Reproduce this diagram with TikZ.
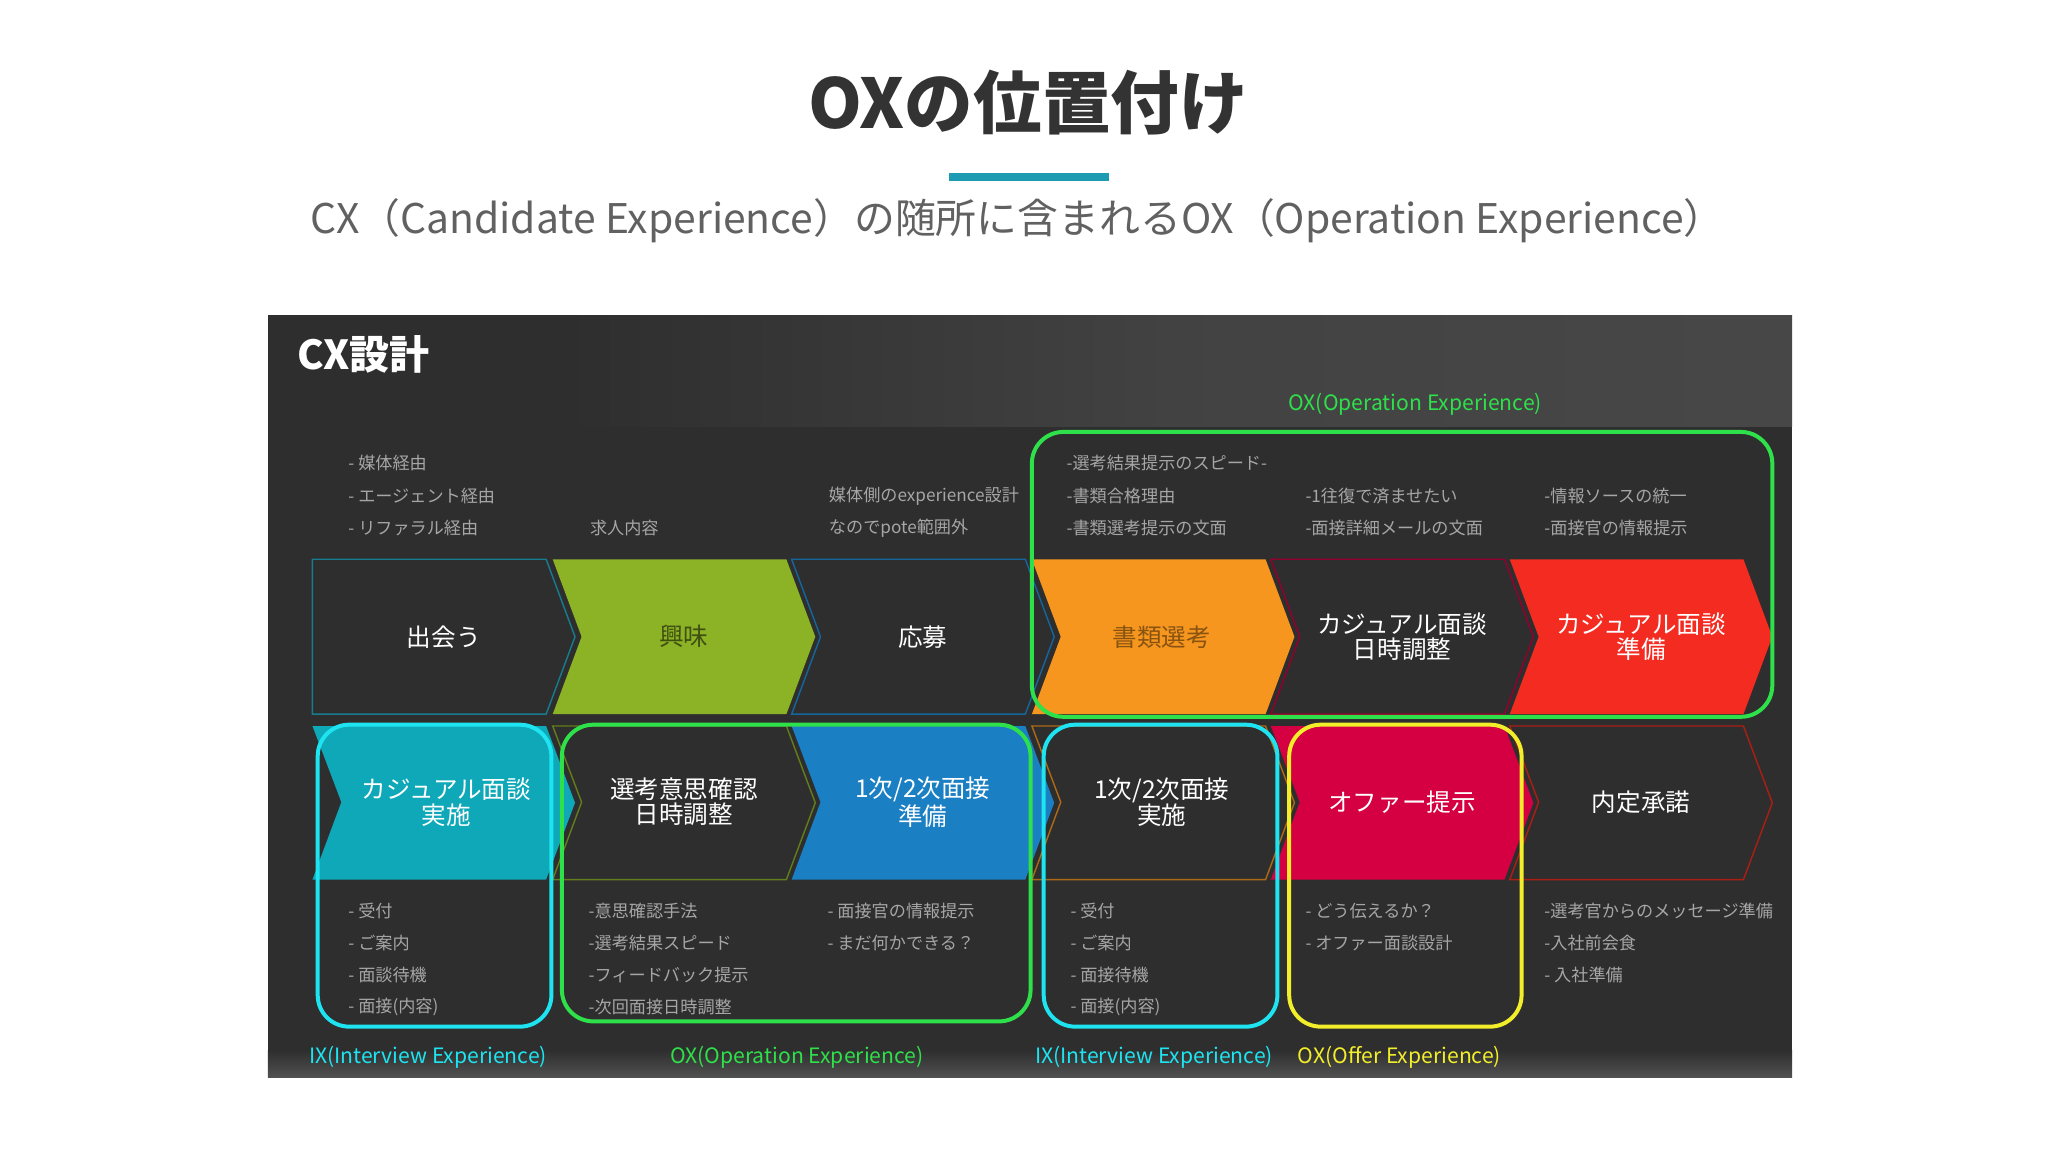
\documentclass[tikz,border=0pt]{standalone}
\usepackage{fontspec}
\setmainfont{Noto Sans CJK JP}
\definecolor{cgreen}{HTML}{2EE04A}
\definecolor{ccyan}{HTML}{1DE4F0}
\definecolor{cyell}{HTML}{F2EE2A}
\definecolor{cteal}{HTML}{0FA8B8}
\definecolor{colive}{HTML}{8CB226}
\definecolor{corange}{HTML}{F7961E}
\definecolor{cred}{HTML}{F42B20}
\definecolor{cblue}{HTML}{1A7FC3}
\definecolor{ccrim}{HTML}{D40042}
\definecolor{cbar}{HTML}{1C9BB2}
\definecolor{cbg}{HTML}{2E2E2E}
\begin{document}
\begin{tikzpicture}[x=0.4595pt,y=-0.4595pt,
  note/.style={anchor=west,text=black!35,font=\fontsize{6}{7}\selectfont,inner sep=0},
  lbl/.style={align=center,font=\fontsize{8.6}{8.8}\selectfont,inner sep=0},
  grp/.style={line width=1.4pt,rounded corners=11pt},
  grplabel/.style={font=\fontsize{7.4}{8}\selectfont,inner sep=0}]
\useasboundingbox (0,0) rectangle (1560,877.5);
\fill[white] (0,0) rectangle (1560,877.5);
\node[font=\fontsize{24}{28}\selectfont\bfseries,text=black!80] (title) at (783,78) {OXの位置付け};
\fill[cbar] (723,132) rectangle (845,138);
\node[font=\fontsize{14.3}{17}\selectfont,text=black!62] (sub) at (775,168) {CX（Candidate Experience）の随所に含まれるOX（Operation Experience）};
% slide
\fill[cbg] (204,240) rectangle (1365,821);
\shade[left color=cbg,right color=black!72,middle color=black!74] (430,240) rectangle (1365,325);
\shade[top color=cbg,bottom color=black!68] (204,800) rectangle (1365,821);
\node[anchor=west,text=white,font=\fontsize{14}{16}\selectfont\bfseries,inner sep=0] (cx) at (226,270) {CX設計};
\newcommand{\chv}[5]{%
  \path[#4] (#1,#2) -- (#1+178,#2) -- (#1+200,{(#2+#3)/2}) -- (#1+178,#3) -- (#1,#3) -- #5 cycle;}
% top row
\chv{238}{426}{544}{draw=cbar!80!black,line width=0.5pt}{}
\chv{421}{426}{544}{fill=colive}{(443,485) --}
\chv{603}{426}{544}{draw=cblue!80!black,line width=0.5pt}{(625,485) --}
\chv{786}{426}{544}{fill=corange}{(808,485) --}
\chv{968}{426}{544}{draw=ccrim!70!black,line width=0.5pt}{(990,485) --}
\chv{1150}{426}{544}{fill=cred}{(1172,485) --}
\node[lbl,text=white] (a1) at (338,485) {出会う};
\node[lbl,text=colive!45!black] (a2) at (521,485) {興味};
\node[lbl,text=white] (a3) at (703,485) {応募};
\node[lbl,text=corange!55!black] (a4) at (885,485) {書類選考};
\node[lbl,text=white] (a5) at (1068,485) {カジュアル面談\\日時調整};
\node[lbl,text=white] (a6) at (1250,485) {カジュアル面談\\準備};
% bottom row
\chv{238}{553}{670}{fill=cteal}{(260,611) --}
\chv{421}{553}{670}{draw=colive!70!black,line width=0.5pt}{(443,611) --}
\chv{603}{553}{670}{fill=cblue}{(625,611) --}
\chv{786}{553}{670}{draw=corange!70!black,line width=0.5pt}{(808,611) --}
\chv{968}{553}{670}{fill=ccrim}{(990,611) --}
\chv{1150}{553}{670}{draw=cred!70!black,line width=0.5pt}{(1172,611) --}
\node[lbl,text=white] (b1) at (340,611) {カジュアル面談\\実施};
\node[lbl,text=white] (b2) at (521,611) {選考意思確認\\日時調整};
\node[lbl,text=white] (b3) at (703,611) {1次/2次面接\\準備};
\node[lbl,text=white] (b4) at (885,611) {1次/2次面接\\実施};
\node[lbl,text=white] (b5) at (1068,611) {オファー提示};
\node[lbl,text=white] (b6) at (1250,611) {内定承諾};
% group boxes
\draw[grp,draw=cgreen] (786,329) rectangle (1350,546);
\draw[grp,draw=ccyan] (242,552) rectangle (420,782);
\draw[grp,draw=cgreen] (428,552) rectangle (785,778);
\draw[grp,draw=ccyan] (795,552) rectangle (973,782);
\draw[grp,draw=cyell] (982,552) rectangle (1159,782);
\node[grplabel,text=cgreen] (g1) at (1078,308) {OX(Operation Experience)};
\node[grplabel,text=ccyan] (g2) at (326,805) {IX(Interview Experience)};
\node[grplabel,text=cgreen] (g3) at (607,805) {OX(Operation Experience)};
\node[grplabel,text=ccyan] (g4) at (879,805) {IX(Interview Experience)};
\node[grplabel,text=cyell] (g5) at (1066,805) {OX(Offer Experience)};
% notes top
\node[note] (n1) at (265,353) {- 媒体経由};
\node[note] (n2) at (265,378) {- エージェント経由};
\node[note] (n3) at (265,402) {- リファラル経由};
\node[note] (n4) at (449,402) {求人内容};
\node[note] (n5) at (631,378) {媒体側のexperience設計};
\node[note] (n6) at (631,402) {なのでpote範囲外};
\node[note] (n7) at (812,353) {-選考結果提示のスピード-};
\node[note] (n8) at (812,378) {-書類合格理由};
\node[note] (n9) at (812,402) {-書類選考提示の文面};
\node[note] (n10) at (994,378) {-1往復で済ませたい};
\node[note] (n11) at (994,402) {-面接詳細メールの文面};
\node[note] (n12) at (1176,378) {-情報ソースの統一};
\node[note] (n13) at (1176,402) {-面接官の情報提示};
% notes bottom
\node[note] (m1) at (265,694) {- 受付};
\node[note] (m2) at (265,718) {- ご案内};
\node[note] (m3) at (265,743) {- 面談待機};
\node[note] (m4) at (265,767) {- 面接(内容)};
\node[note] (m5) at (448,694) {-意思確認手法};
\node[note] (m6) at (448,718) {-選考結果スピード};
\node[note] (m7) at (448,743) {-フィードバック提示};
\node[note] (m8) at (448,767) {-次回面接日時調整};
\node[note] (m9) at (630,694) {- 面接官の情報提示};
\node[note] (m10) at (630,718) {- まだ何かできる？};
\node[note] (m11) at (815,694) {- 受付};
\node[note] (m12) at (815,718) {- ご案内};
\node[note] (m13) at (815,743) {- 面接待機};
\node[note] (m14) at (815,767) {- 面接(内容)};
\node[note] (m15) at (994,694) {- どう伝えるか？};
\node[note] (m16) at (994,718) {- オファー面談設計};
\node[note] (m17) at (1176,694) {-選考官からのメッセージ準備};
\node[note] (m18) at (1176,718) {-入社前会食};
\node[note] (m19) at (1176,743) {- 入社準備};
\end{tikzpicture}
\end{document}
